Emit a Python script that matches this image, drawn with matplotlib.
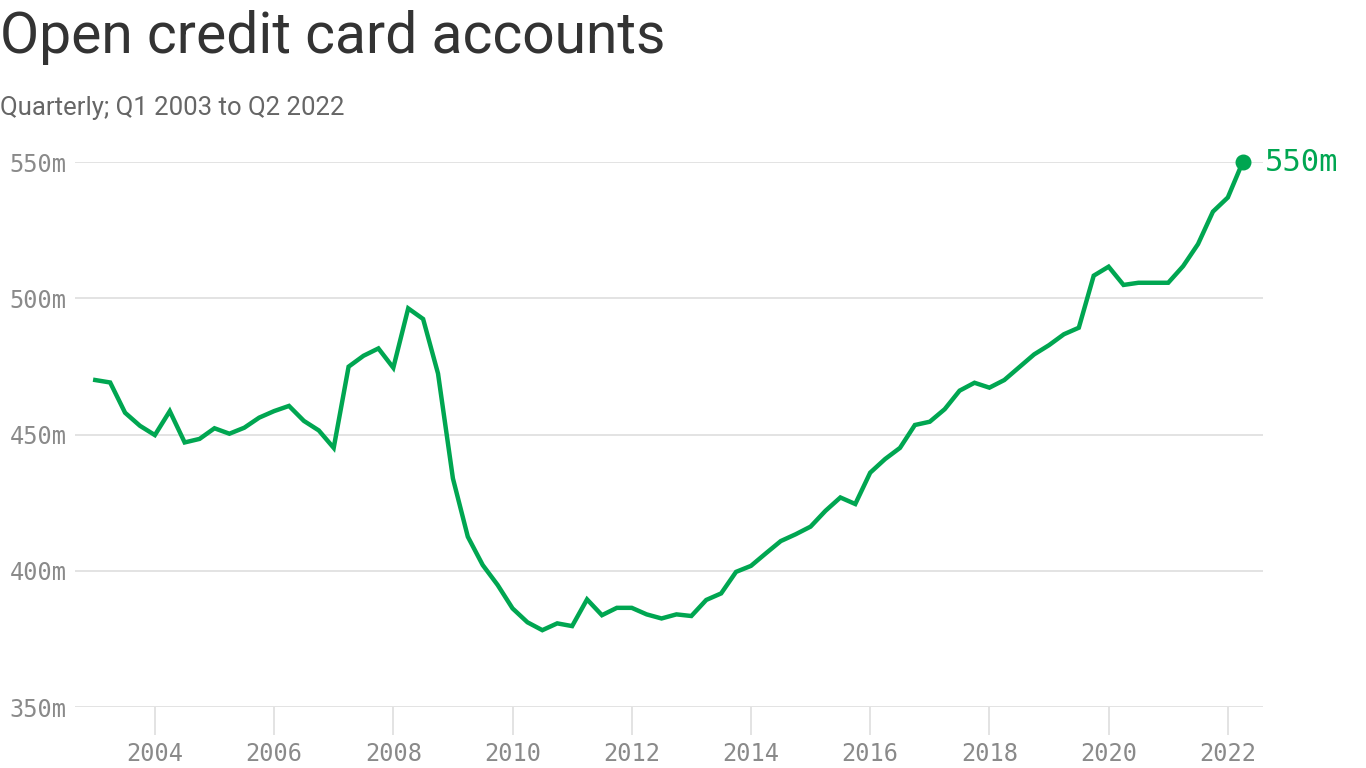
import numpy as np
import matplotlib
matplotlib.use("Agg")
import matplotlib.pyplot as plt

# Quarterly open credit card accounts, millions, Q1 2003 - Q2 2022
accounts = [
    470.0, 469.1, 458.0, 453.2, 449.8, 458.6, 447.1, 448.4,   # 2003-2004
    452.3, 450.3, 452.5, 456.2, 458.6, 460.5, 455.0, 451.5,   # 2005-2006
    445.1, 474.9, 478.9, 481.6, 474.5, 496.3, 492.4, 472.4,   # 2007-2008
    433.9, 412.5, 402.1, 394.8, 386.2, 381.1, 378.2, 380.7,   # 2009-2010
    379.7, 389.5, 383.7, 386.4, 386.4, 384.0, 382.5, 384.0,   # 2011-2012
    383.4, 389.3, 391.7, 399.6, 401.8, 406.4, 410.9, 413.4,   # 2013-2014
    416.2, 422.0, 426.9, 424.5, 436.0, 441.0, 445.1, 453.5,   # 2015-2016
    454.7, 459.3, 466.1, 469.0, 467.2, 470.0, 474.7, 479.4,   # 2017-2018
    482.8, 486.8, 489.2, 508.3, 511.6, 504.9, 505.7, 505.7,   # 2019-2020
    505.7, 511.8, 519.9, 531.8, 537.0, 550.0,                 # 2021-2022 Q2
]
start_year = 2003
y_ticks = [350, 400, 450, 500, 550]
x_ticks = list(range(2004, 2023, 2))

title = "Open credit card accounts"
subtitle = "Quarterly; Q1 2003 to Q2 2022"

GREEN = "#00a651"
GRAY = "#8a8a8a"
GRID = "#e3e3e3"
MONO = "DejaVu Sans Mono"

x = start_year + np.arange(len(accounts)) / 4.0

fig = plt.figure(figsize=(13.66, 7.68), dpi=100)
ax = fig.add_axes([0.0549, 0.0794, 0.8697, 0.7096])

ax.plot(x, accounts, color=GREEN, linewidth=3.2, solid_joinstyle="miter",
        zorder=3)
ax.scatter([x[-1]], [accounts[-1]], s=110, color=GREEN, zorder=4,
           clip_on=False)
ax.annotate(f"{accounts[-1]:.0f}m", xy=(x[-1], accounts[-1]),
            xytext=(16, 0), textcoords="offset points", color=GREEN,
            fontsize=22, family=MONO, va="center", ha="left",
            annotation_clip=False)

ax.set_xlim(2002.66, 2022.59)
ax.set_ylim(350, 550)

ax.set_yticks(y_ticks)
ax.set_yticklabels([f"{v}m" for v in y_ticks])
ax.set_xticks(x_ticks)
ax.set_xticklabels([str(v) for v in x_ticks])

ax.grid(axis="y", color=GRID, linewidth=1.4, zorder=0)
for s in ax.spines.values():
    s.set_visible(False)

ax.tick_params(axis="y", length=0, pad=6, labelsize=17, labelcolor=GRAY)
ax.tick_params(axis="x", length=20, width=1.4, color=GRID, pad=5,
               labelsize=17, labelcolor=GRAY)
for lbl in ax.get_xticklabels() + ax.get_yticklabels():
    lbl.set_family(MONO)

fig.text(0.0, 0.951, title, fontsize=41, family="Roboto", color="#333333",
         ha="left", va="center")
fig.text(0.0, 0.859, subtitle, fontsize=18.5, family="Roboto",
         color="#666666", ha="left", va="center")

fig.savefig("out.png", dpi=100)
